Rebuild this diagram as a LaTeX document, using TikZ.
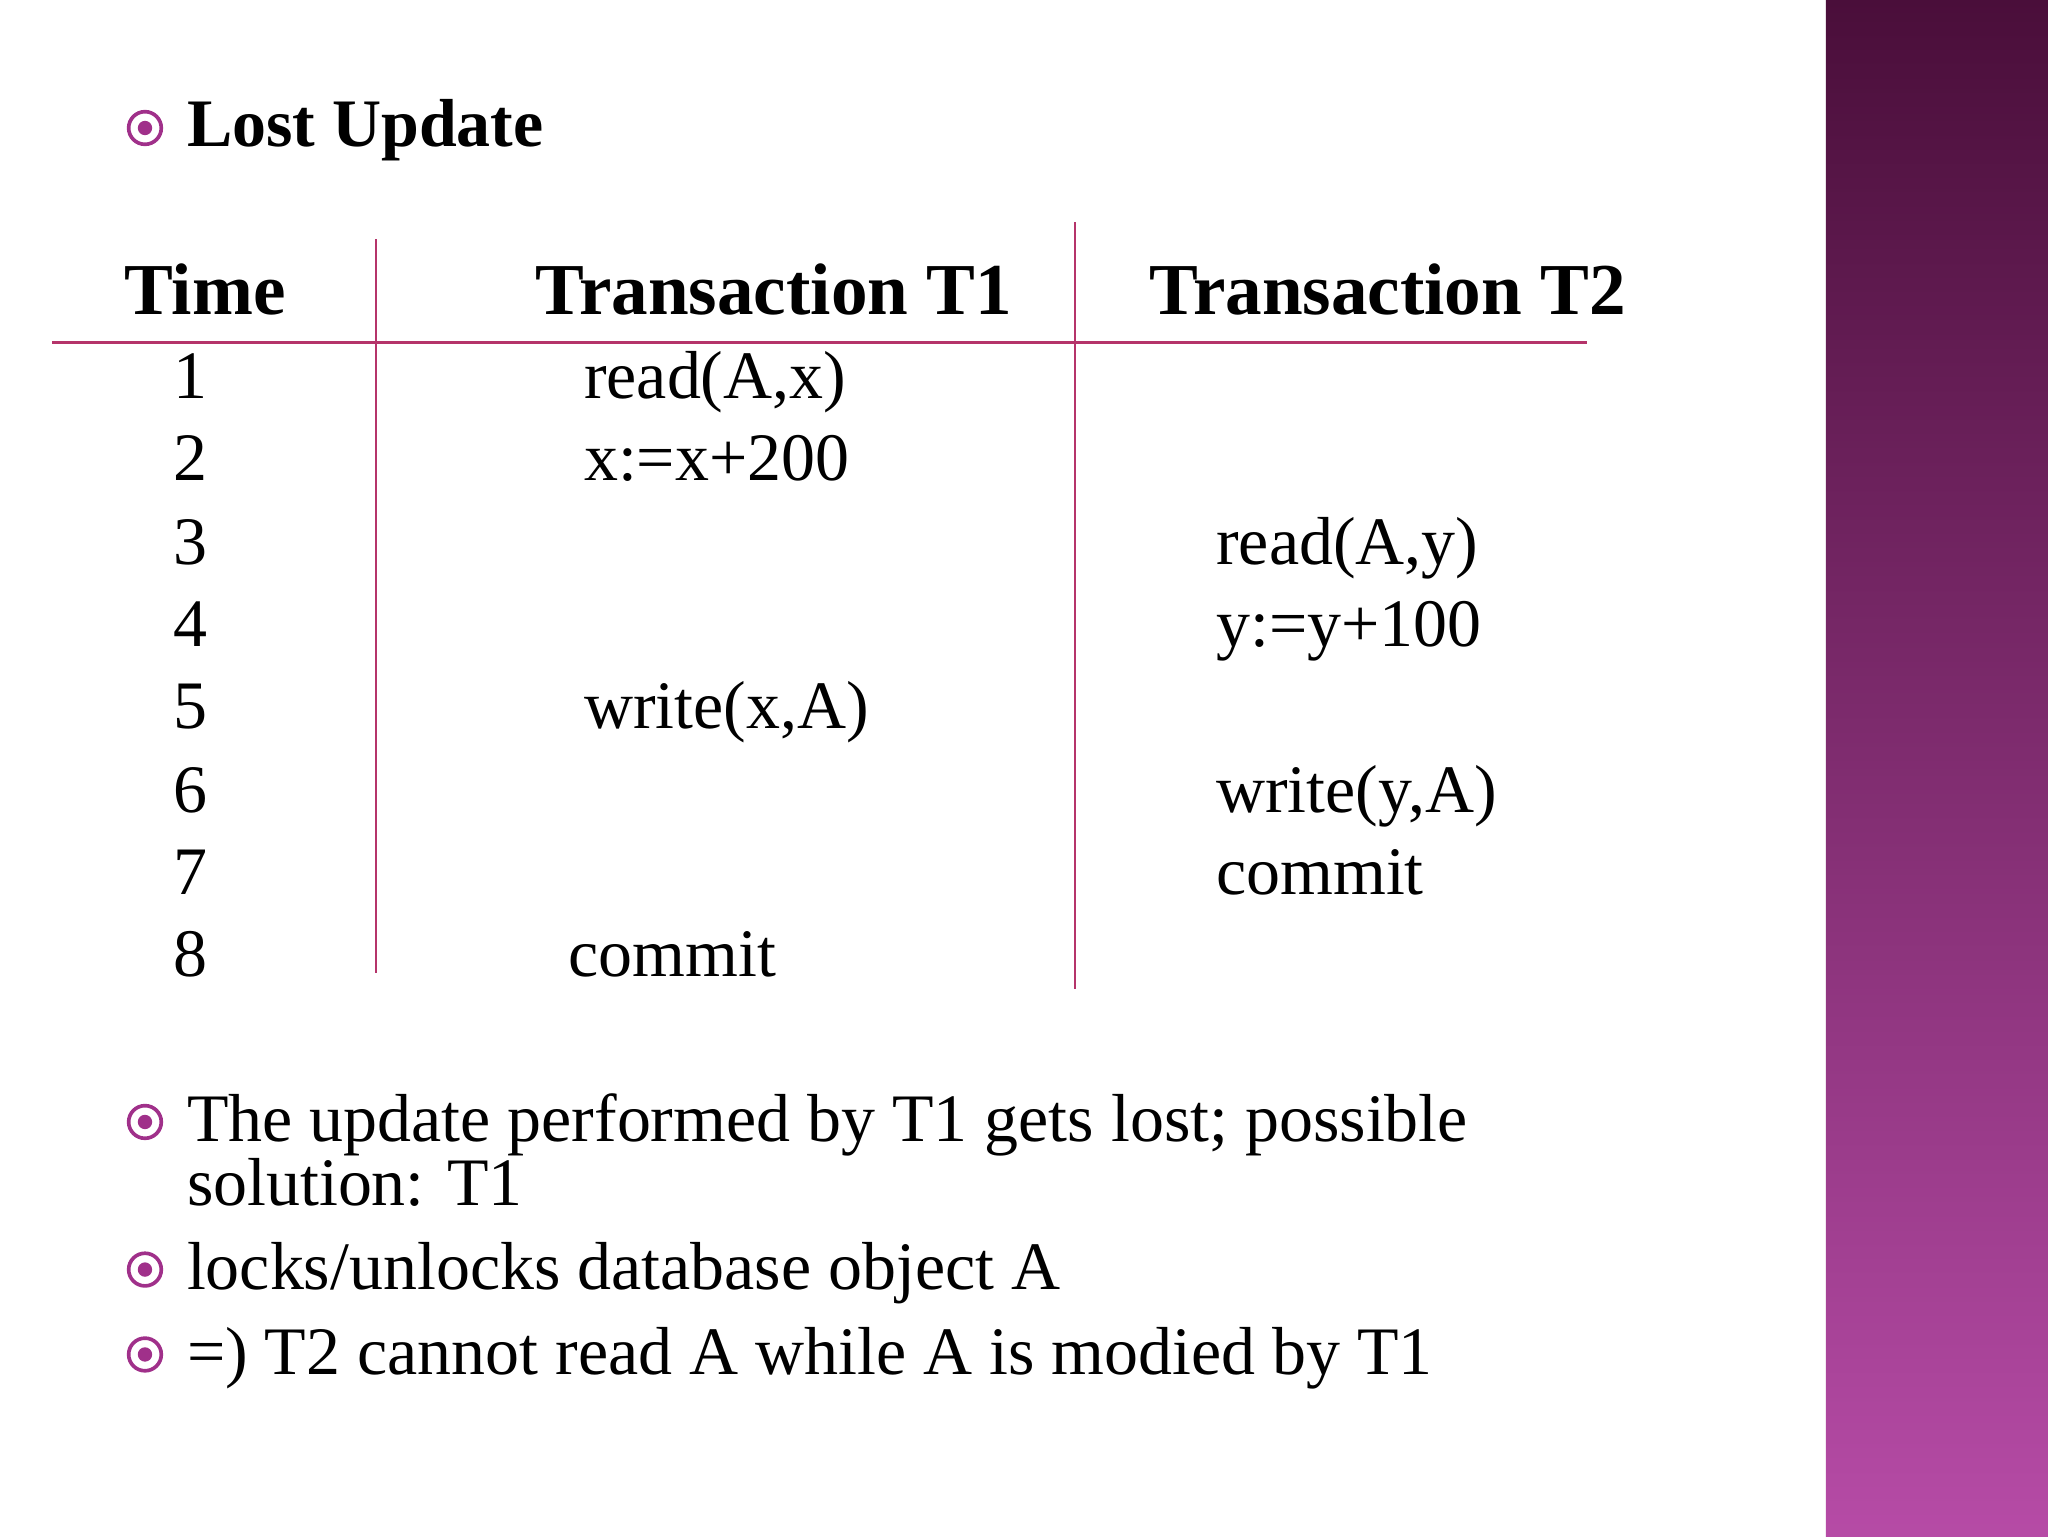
\documentclass[tikz,border=0pt]{standalone}
\usepackage{fontspec}
\setmainfont{Liberation Serif}
\definecolor{rl}{HTML}{B5346A}
\definecolor{bl}{HTML}{A0308A}
\definecolor{dk}{HTML}{4A0E3A}
\definecolor{lt}{HTML}{B64BA6}
\begin{document}
\begin{tikzpicture}[x=1pt,y=-1pt,
  tx/.style={anchor=base west,inner sep=0,font=\fontsize{52}{56}\selectfont},
  hd/.style={anchor=base west,inner sep=0,font=\fontsize{56}{60}\selectfont\bfseries},
  num/.style={anchor=base,inner sep=0,font=\fontsize{52}{56}\selectfont},
  rule/.style={draw=rl,line width=2pt},
  bul/.style={circle,draw=bl,line width=2.8pt,minimum size=25pt,inner sep=0,
    path picture={\fill[bl] (path picture bounding box.center) circle (5.5pt);}}]
\useasboundingbox (0,0) rectangle (1568,1176);
\fill[white] (0,0) rectangle (1568,1176);
\shade[top color=dk,bottom color=lt] (1398,0) rectangle (1568,1176);
\node[bul] (b0) at (111,98) {};
\node[tx,font=\fontsize{52}{56}\selectfont\bfseries] (lu) at (143,112) {Lost Update};
\node[hd] (ht) at (95,241) {Time};
\node[hd] (h1) at (410,241) {Transaction T1};
\node[hd] (h2) at (880,241) {Transaction T2};
\coordinate (hl) at (40,262); \coordinate (hr) at (1215,262);
\coordinate (v1t) at (288,183); \coordinate (v1b) at (288,745);
\coordinate (v2t) at (823,170); \coordinate (v2b) at (823,757);
\draw[rule] (hl) -- (hr);
\draw[rule] (v1t) -- (v1b);
\draw[rule] (v2t) -- (v2b);
\foreach \n/\y in {1/305,2/368,3/432,4/495,5/558,6/622,7/685,8/748}
  \node[num] (n\n) at (146,\y) {\n};
\node[tx] (a1) at (447,305) {read(A,x)};
\node[tx] (a2) at (447,368) {x:=x+200};
\node[tx] (b3) at (931,432) {read(A,y)};
\node[tx] (b4) at (931,495) {y:=y+100};
\node[tx] (a5) at (447,558) {write(x,A)};
\node[tx] (b6) at (931,622) {write(y,A)};
\node[tx] (b7) at (931,685) {commit};
\node[tx] (a8) at (435,748) {commit};
\node[bul] (b1) at (111,859) {};
\node[tx] (t1) at (143,874) {The update performed by T1 gets lost; possible};
\node[tx] (t1b) at (143,923) {solution: T1};
\node[bul] (b2) at (111,972) {};
\node[tx] (t2) at (143,987) {locks/unlocks database object A};
\node[bul] (b3b) at (111,1037) {};
\node[tx] (t3) at (143,1052) {=) T2 cannot read A while A is modied by T1};
\end{tikzpicture}
\end{document}
